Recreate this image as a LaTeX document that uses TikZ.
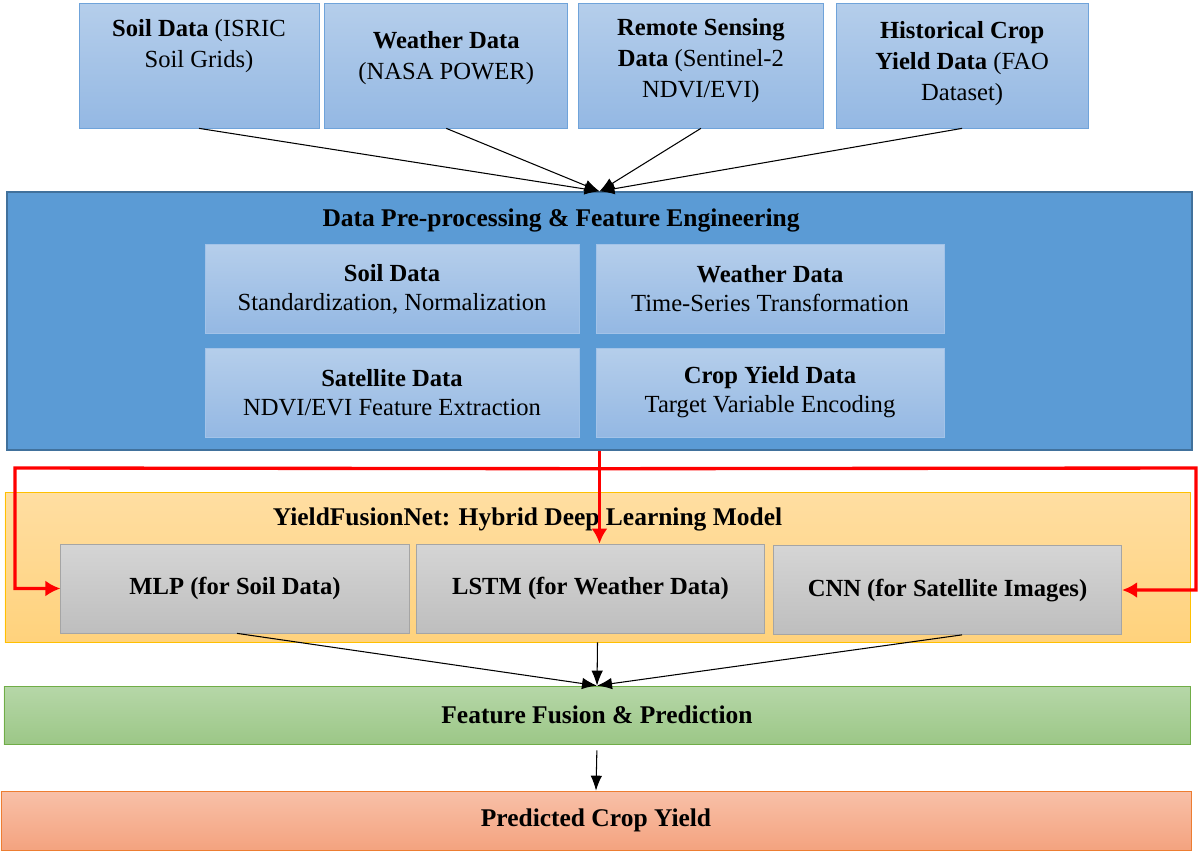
\documentclass[tikz,border=0pt]{standalone}
\usepackage{fontspec}
\setmainfont{Liberation Serif}
\usetikzlibrary{arrows.meta,positioning}

\definecolor{srctop}{HTML}{B5CEEB}
\definecolor{srcbot}{HTML}{94B8E3}
\definecolor{srcline}{HTML}{6FA3DA}
\definecolor{prepfill}{HTML}{5B9BD5}
\definecolor{prepline}{HTML}{41719C}
\definecolor{innline}{HTML}{A3C3E8}
\definecolor{mdltop}{HTML}{FFDEA2}
\definecolor{mdlbot}{HTML}{FFD27C}
\definecolor{mdlline}{HTML}{FFC000}
\definecolor{graytop}{HTML}{D5D5D5}
\definecolor{graybot}{HTML}{BEBEBE}
\definecolor{grayline}{HTML}{A5A5A5}
\definecolor{fustop}{HTML}{B6D7A8}
\definecolor{fusbot}{HTML}{9CC787}
\definecolor{fusline}{HTML}{70AD47}
\definecolor{outtop}{HTML}{F8C0A8}
\definecolor{outbot}{HTML}{F4A37F}
\definecolor{outline}{HTML}{ED7D31}

\begin{document}
\begin{tikzpicture}[node distance=0.1cm and 0.1cm, font=\fontsize{14}{17.6}\selectfont,
src/.style={rectangle, draw=srcline, top color=srctop, bottom color=srcbot, minimum height=2.5cm},
srctxt/.style={align=center},
inner/.style={rectangle, draw=innline, top color=srctop, bottom color=srcbot, minimum width=7.48cm, minimum height=1.78cm, align=center, font=\fontsize{14}{16.5}\selectfont},
ttl/.style={font=\fontsize{14.5}{17}\selectfont\bfseries},
gbox/.style={rectangle, draw=grayline, top color=graytop, bottom color=graybot, minimum width=6.97cm, minimum height=1.78cm, text height=0.93em, text depth=0.22em, font=\fontsize{14}{17}\selectfont\bfseries},
redarr/.style={draw=red, line width=1.9pt, -{Latex[length=3mm,width=3.2mm]}},
blkarr/.style={draw=black, line width=0.6pt, -{Latex[length=3mm,width=2.3mm]}}]
\useasboundingbox (0,0) rectangle (24,-17.02);

% the four data sources on top, side by side
\node[src, minimum width=4.8cm](S1) at (3.98,-1.31){};
\node[src, minimum width=4.86cm](S2)[right=0.1cm of S1]{};
\node[src, minimum width=4.9cm](S3)[right=0.2cm of S2]{};
\node[src, minimum width=5.04cm](S4)[right=0.24cm of S3]{};
\node[srctxt](L1)[below=0.22cm of S1.north]{\textbf{Soil Data} (ISRIC\\Soil Grids)};
\node[srctxt](L2)[below=0.46cm of S2.north]{\textbf{Weather Data}\\(NASA POWER)};
\node[srctxt](L3)[below=0.2cm of S3.north]{\textbf{Remote Sensing}\\\textbf{Data} (Sentinel-2\\NDVI/EVI)};
\node[srctxt](L4)[below=0.26cm of S4.north]{\textbf{Historical Crop}\\\textbf{Yield Data} (FAO\\Dataset)};

% pre-processing block with its four steps
\node[rectangle, draw=prepline, fill=prepfill, line width=0.8pt, minimum width=23.7cm, minimum height=5.16cm](D) at (11.99,-6.42){};
\node[ttl](Dt) at (11.22,-4.4){Data Pre-processing \& Feature Engineering};
\node[inner](P1) at (7.84,-5.78){\textbf{Soil Data}\\Standardization, Normalization};
\node[inner, minimum width=6.96cm](P2) at (15.4,-5.78){\textbf{Weather Data}\\Time-Series Transformation};
\node[inner](P3) at (7.84,-7.85){\textbf{Satellite Data}\\NDVI/EVI Feature Extraction};
\node[inner, minimum width=6.96cm](P4) at (15.4,-7.85){\textbf{Crop Yield Data}\\Target Variable Encoding};

% hybrid model block
\node[rectangle, draw=mdlline, top color=mdltop, bottom color=mdlbot, minimum width=23.7cm, minimum height=3cm](M) at (11.95,-11.34){};
\node[ttl](Mt) at (10.55,-10.38){YieldFusionNet: Hybrid Deep Learning Model};
\node[gbox](G1) at (4.7,-11.77){MLP (for Soil Data)};
\node[gbox](G2) at (11.81,-11.77){LSTM (for Weather Data)};
\node[gbox](G3) at (18.95,-11.8){CNN (for Satellite Images)};

% fusion and output
\node[rectangle, draw=fusline, top color=fustop, bottom color=fusbot, minimum width=23.72cm, minimum height=1.16cm, ttl](F) at (11.94,-14.3){Feature Fusion \& Prediction};
\node[rectangle, draw=outline, top color=outtop, bottom color=outbot, minimum width=23.8cm, minimum height=1.18cm, ttl](R) at (11.92,-16.41){Predicted Crop Yield};

% sources into pre-processing
\draw[blkarr] (S1.south) -- (D.north);
\draw[blkarr] (S2.south) -- (D.north);
\draw[blkarr] (S3.south) -- (D.north);
\draw[blkarr] (S4.south) -- (D.north);

% red split towards the three networks
\coordinate[below=0.36cm of D.south](J);
\coordinate(Cl) at (0.3,-9.36);
\coordinate(Cr) at (23.92,-9.36);
\draw[draw=red, line width=1.9pt] (D.south) -- (J);
\draw[redarr] (J) -- (Cl) |- (G1.west);
\draw[redarr] (J) -- (J |- G2.north);
\draw[redarr] (J) -- (Cr) |- (G3.east);

% networks into fusion, fusion into output
\draw[blkarr] ([xshift=0.04cm]G1.south) -- (F.north);
\draw[blkarr] (M.south) -- (F.north);
\draw[blkarr] ([xshift=0.29cm]G3.south) -- (F.north);
\draw[blkarr, shorten <=0.12cm] (F.south) -- (R.north);

\end{tikzpicture}
\end{document}
